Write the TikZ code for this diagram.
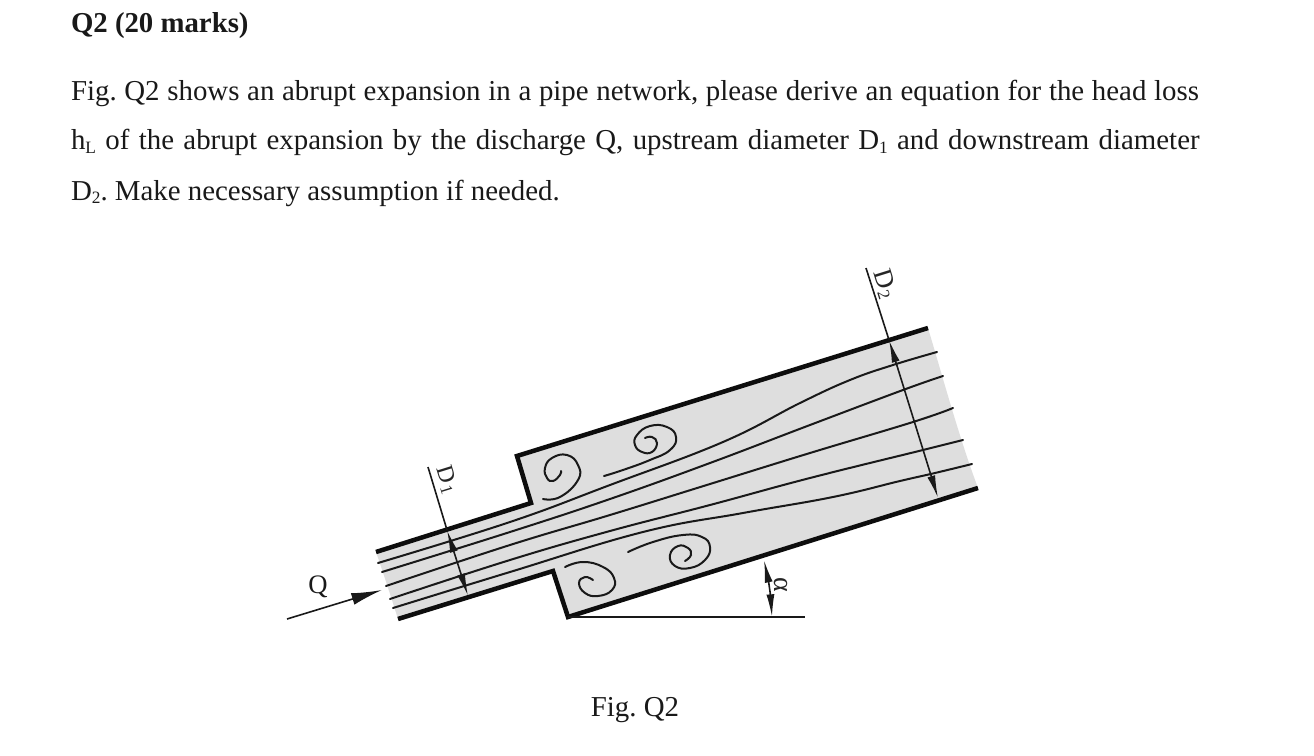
\documentclass[tikz,border=0pt]{standalone}
\usepackage{fontspec}
\setmainfont{Liberation Serif}
\frenchspacing
\usetikzlibrary{arrows.meta}
\newcommand{\bodysize}{\fontsize{21.65}{25}\selectfont}
\newcommand{\lowsub}[1]{\raisebox{-0.12em}{\fontsize{13}{15}\selectfont #1}}
\newcommand{\dimsub}[1]{\kern1.2pt\raisebox{-0.1em}{\fontsize{13}{15}\selectfont #1}}
\tikzset{
  wall/.style={line width=3.4pt,line join=miter,line cap=butt,black!95},
  stream/.style={line width=1.5pt,black!90,line cap=round},
  dimline/.style={line width=1.2pt,black!90},
  dimtip/.style={dimline,{Latex[length=17pt,width=6pt]}-{Latex[length=17pt,width=6pt]}},
  bodyline/.style={anchor=base west,inner sep=0pt,outer sep=0pt,font=\bodysize,text=black!90},
  dimlabel/.style={inner sep=0pt,font=\fontsize{18}{20}\selectfont,rotate=-72.7,text=black!85},
}
\begin{document}
\begin{tikzpicture}[x=0.75pt,y=-0.75pt]
\useasboundingbox (0,0) rectangle (1314,756);
% text
\node[bodyline,font=\bfseries\fontsize{21.6}{26}\selectfont] (title) at (71,33) {Q2 (20 marks)};
\node[bodyline] (l1) at (71,101) {\makebox[846pt][s]{Fig. Q2 shows an abrupt expansion in a pipe network, please derive an equation for the head loss}};
\node[bodyline] (l2) at (71,150) {\makebox[846.5pt][s]{h\lowsub{L} of the abrupt expansion by the discharge Q, upstream diameter D\lowsub{1} and downstream diameter}};
\node[bodyline] (l3) at (71,200) {D\lowsub{2}. Make necessary assumption if needed.};
\node[bodyline,anchor=base] (cap) at (635,716) {Fig. Q2};
% pipe body
\fill[black!13] (376,552) -- (533,503) -- (517,456) -- (928,328)
  .. controls (945,385) and (960,440) .. (978,488)
  -- (568,617) -- (553,571) -- (398,619)
  .. controls (391,597) and (384,575) .. (376,552) -- cycle;
% walls
\coordinate (u0) at (376,552); \coordinate (u1) at (531,503); \coordinate (u2) at (517,456); \coordinate (u3) at (928,328);
\coordinate (b0) at (398,619); \coordinate (b1) at (553,571); \coordinate (b2) at (568,617); \coordinate (b3) at (978,488);
\draw[wall] (u0) -- (u1) -- (u2) -- (u3);
\draw[wall] (b0) -- (b1) -- (b2) -- (b3);
% streamlines
\draw[stream] plot[smooth,tension=0.7] coordinates {(378,563) (510,522) (610,485) (723,442) (800,403) (850,380) (893,365) (937,352)};
\draw[stream] plot[smooth,tension=0.7] coordinates {(382,572) (510,532) (610,499) (710,463) (810,425) (903,390) (943,376)};
\draw[stream] plot[smooth,tension=0.7] coordinates {(386,586) (510,545) (610,515) (710,484) (810,453) (913,422) (953,408)};
\draw[stream] plot[smooth,tension=0.7] coordinates {(390,599) (510,560) (610,531) (710,505) (810,478) (923,450) (963,440)};
\draw[stream] plot[smooth,tension=0.7] coordinates {(393,608) (510,572) (643,532) (743,513) (833,497) (900,481) (935,473) (972,464)};
% eddies
\draw[stream] plot[smooth,tension=0.8] coordinates {(543,499) (560,497) (578,480) (578,465) (567,455) (552,458) (545,468) (547,478) (553,481) (560,475) (561,471)};
\draw[stream] plot[smooth,tension=0.8] coordinates {(604,476) (623,470) (650,460) (670,450) (676,437) (667,427) (650,426) (637,435) (635,445) (642,452) (652,452) (657,443) (652,437) (645,438)};
\draw[stream] plot[smooth,tension=0.8] coordinates {(628,552) (653,542) (683,535) (702,537) (710,547) (705,560) (690,568) (675,566) (670,555) (678,546) (688,548) (691,555) (685,561)};
\draw[stream] plot[smooth,tension=0.8] coordinates {(565,567) (583,562) (603,567) (614,578) (612,590) (598,596) (585,593) (579,583) (585,577) (593,580)};
% dimensions
\coordinate (d1o) at (428,467); \coordinate (d1a) at (447,530); \coordinate (d1b) at (468,596);
\draw[dimline] (d1o) -- (d1a);
\draw[dimtip] (d1a) -- (d1b);
\node[dimlabel] (d1t) at (447,480) {D\dimsub{1}};
\coordinate (d2o) at (866,268); \coordinate (d2a) at (889,340); \coordinate (d2b) at (938,498);
\draw[dimline] (d2o) -- (d2a);
\draw[dimtip] (d2a) -- (d2b);
\node[dimlabel,font=\fontsize{20}{22}\selectfont] (d2t) at (885,284) {D\dimsub{2}};
% angle
\coordinate (h0) at (568,617); \coordinate (h1) at (805,617);
\coordinate (a1) at (764,560); \coordinate (a2) at (772,617);
\draw[dimline] (h0) -- (h1);
\draw[dimtip] (a1) to[bend left=4] (a2);
\node[dimlabel,rotate=-17.3,font=\fontsize{21}{23}\selectfont] (alpha) at (781,585) {α};
% inflow
\coordinate (q0) at (287,619); \coordinate (q1) at (382,590);
\draw[dimline,-{Latex[length=23pt,width=9pt]}] (q0) -- (q1);
\node[inner sep=0pt,font=\fontsize{20}{22}\selectfont,text=black!90] (q) at (318,587) {Q};
\end{tikzpicture}
\end{document}
